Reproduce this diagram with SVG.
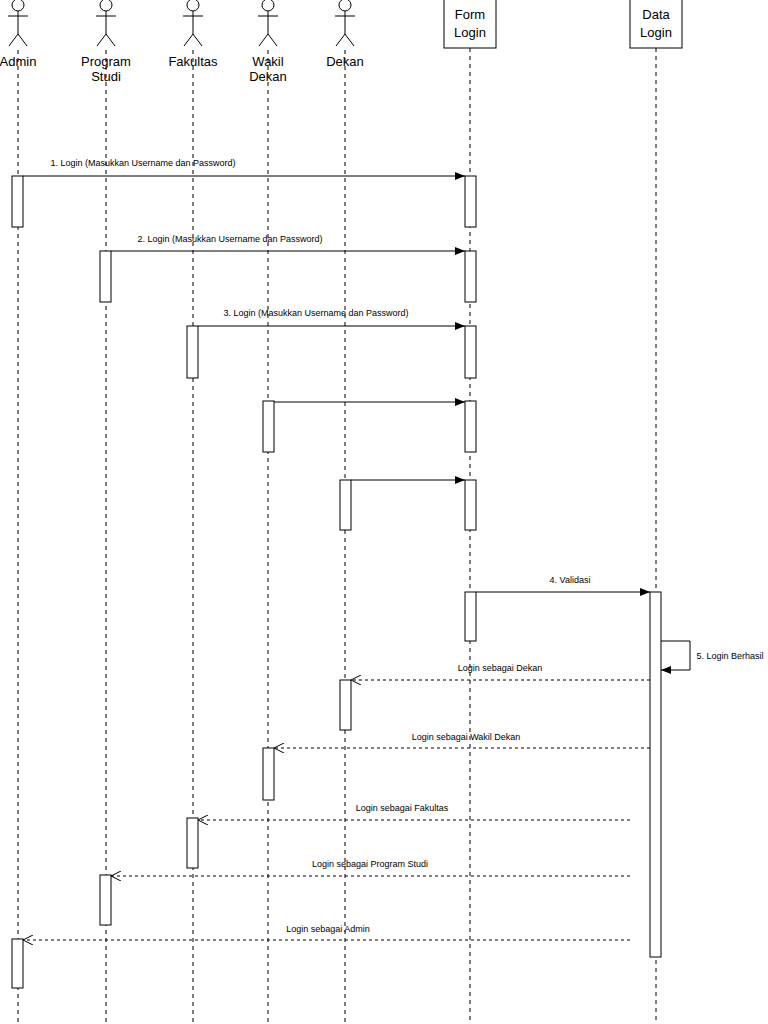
<svg xmlns="http://www.w3.org/2000/svg" width="768" height="1024" viewBox="0 0 768 1024">
<style>
text{font-family:"Liberation Sans",Arial,sans-serif;fill:#000}
.lbl{font-size:13px;text-anchor:middle}
.msg{font-size:9px;text-anchor:middle}
.life{stroke:#000;stroke-dasharray:4 4;fill:none}
.act{fill:#fff;stroke:#000;stroke-width:1}
.fig{fill:none;stroke:#000}
.call{stroke:#000;fill:none;marker-end:url(#fa)}
.ret{stroke:#000;fill:none;stroke-dasharray:3 3;marker-end:url(#oa)}
</style>
<defs>
<marker id="fa" markerWidth="10" markerHeight="8" refX="10" refY="4" orient="auto" markerUnits="userSpaceOnUse"><path d="M0,0L10,4L0,8z" fill="#000"/></marker>
<marker id="oa" markerWidth="10" markerHeight="10" refX="10" refY="5" orient="auto" markerUnits="userSpaceOnUse"><path d="M0,0L10,5L0,10" fill="none" stroke="#000"/></marker>
</defs>
<rect width="768" height="1024" fill="#fff"/>
<g id="lifelines">
<line class="life" x1="18" y1="50" x2="18" y2="1024"/>
<line class="life" x1="106" y1="50" x2="106" y2="1024"/>
<line class="life" x1="193" y1="50" x2="193" y2="1024"/>
<line class="life" x1="268" y1="50" x2="268" y2="1024"/>
<line class="life" x1="345" y1="50" x2="345" y2="1024"/>
<line class="life" x1="470" y1="48" x2="470" y2="1024"/>
<line class="life" x1="656" y1="48" x2="656" y2="1024"/>
</g>
<g id="admin"><g class="fig"><circle cx="18" cy="5" r="6"/><path d="M18,11V34M8,16H28M18,34L9,46M18,34L27,46"/></g><text class="lbl" x="18" y="66">Admin</text></g>
<g id="prodi"><g class="fig"><circle cx="106" cy="5" r="6"/><path d="M106,11V34M96,16H116M106,34L97,46M106,34L115,46"/></g><text class="lbl" x="106" y="66">Program</text><text class="lbl" x="106" y="81">Studi</text></g>
<g id="fakultas"><g class="fig"><circle cx="193" cy="5" r="6"/><path d="M193,11V34M183,16H203M193,34L184,46M193,34L202,46"/></g><text class="lbl" x="193" y="66">Fakultas</text></g>
<g id="wakil"><g class="fig"><circle cx="268" cy="5" r="6"/><path d="M268,11V34M258,16H278M268,34L259,46M268,34L277,46"/></g><text class="lbl" x="268" y="66">Wakil</text><text class="lbl" x="268" y="81">Dekan</text></g>
<g id="dekan"><g class="fig"><circle cx="345" cy="5" r="6"/><path d="M345,11V34M335,16H355M345,34L336,46M345,34L354,46"/></g><text class="lbl" x="345" y="66">Dekan</text></g>
<g id="formlogin"><rect x="444" y="-2" width="52" height="50" class="act"/><text class="lbl" x="470" y="19">Form</text><text class="lbl" x="470" y="37">Login</text></g>
<g id="datalogin"><rect x="630" y="-2" width="52" height="50" class="act"/><text class="lbl" x="656" y="19">Data</text><text class="lbl" x="656" y="37">Login</text></g>
<g id="activations">
<rect class="act" x="12" y="176" width="11" height="51"/>
<rect class="act" x="465" y="176" width="11" height="51"/>
<rect class="act" x="100" y="251" width="11" height="51"/>
<rect class="act" x="465" y="251" width="11" height="51"/>
<rect class="act" x="187" y="326" width="11" height="52"/>
<rect class="act" x="465" y="326" width="11" height="52"/>
<rect class="act" x="263" y="401" width="11" height="51"/>
<rect class="act" x="465" y="401" width="11" height="51"/>
<rect class="act" x="340" y="480" width="11" height="50"/>
<rect class="act" x="465" y="480" width="11" height="50"/>
<rect class="act" x="465" y="592" width="11" height="49"/>
<rect class="act" x="650" y="592" width="11" height="365"/>
<rect class="act" x="340" y="680" width="11" height="50"/>
<rect class="act" x="263" y="748" width="11" height="52"/>
<rect class="act" x="187" y="818" width="11" height="50"/>
<rect class="act" x="100" y="875" width="11" height="50"/>
<rect class="act" x="12" y="939" width="11" height="49"/>
</g>
<g id="connectors">
<line class="call" x1="23" y1="176" x2="465" y2="176"/>
<text class="msg" x="143" y="166">1. Login (Masukkan Username dan Password)</text>
<line class="call" x1="111" y1="251" x2="465" y2="251"/>
<text class="msg" x="230" y="242">2. Login (Masukkan Username dan Password)</text>
<line class="call" x1="198" y1="326" x2="465" y2="326"/>
<text class="msg" x="316" y="316">3. Login (Masukkan Username dan Password)</text>
<line class="call" x1="274" y1="402" x2="465" y2="402"/>
<line class="call" x1="351" y1="480" x2="465" y2="480"/>
<line class="call" x1="476" y1="592" x2="650" y2="592"/>
<text class="msg" x="570" y="583">4. Validasi</text>
<path class="call" d="M661,641H690V670H661"/>
<text class="msg" x="730" y="659">5. Login Berhasil</text>
<line class="ret" x1="650" y1="680" x2="351" y2="680"/>
<text class="msg" x="500" y="671">Login sebagai Dekan</text>
<line class="ret" x1="650" y1="748" x2="274" y2="748"/>
<text class="msg" x="466" y="740">Login sebagai Wakil Dekan</text>
<line class="ret" x1="630" y1="820" x2="198" y2="820"/>
<text class="msg" x="402" y="811">Login sebagai Fakultas</text>
<line class="ret" x1="630" y1="876" x2="111" y2="876"/>
<text class="msg" x="370" y="867">Login sebagai Program Studi</text>
<line class="ret" x1="630" y1="940" x2="23" y2="940"/>
<text class="msg" x="328" y="932">Login sebagai Admin</text>
</g>
</svg>
